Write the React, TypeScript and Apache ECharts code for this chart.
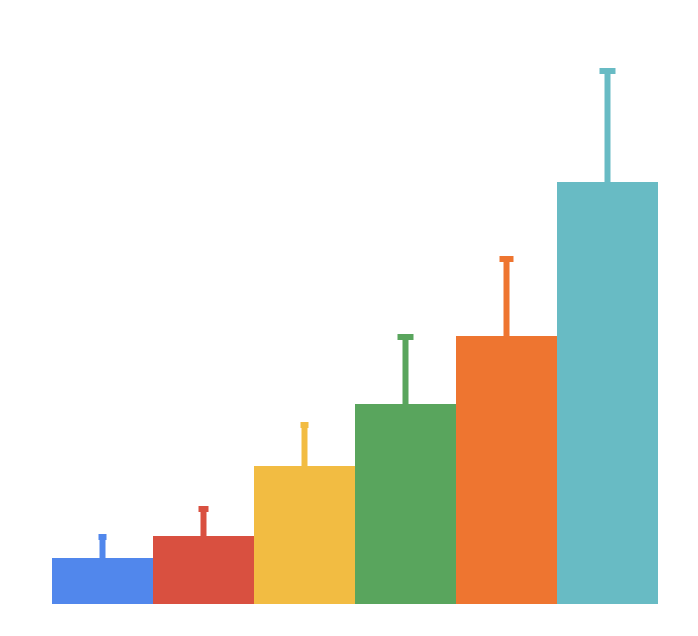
import React, { useEffect, useRef } from "react";
import * as echarts from "echarts";

const categories = ["A", "B", "C", "D", "E", "F"];
const values = [9.2, 13.6, 27.6, 40, 53.6, 84.4];
const errorUpper = [13.4, 19, 35.8, 53.4, 69, 106.6];

const COLORS = ["#5187EC", "#D95040", "#F2BC42", "#59A55D", "#EE7530", "#68BBC4"];
const CAP_WIDTHS = [8, 10, 8, 16, 14, 16];

export default function App() {
  const ref = useRef<HTMLDivElement>(null);
  useEffect(() => {
    document.body.style.margin = "0";
    const chart = echarts.init(ref.current!, null, { renderer: "svg" });
    chart.setOption({
      animation: false,
      grid: { left: 52, right: 40, top: 64, bottom: 32 },
      xAxis: { type: "category", data: categories, show: false },
      yAxis: { type: "value", min: 0, max: 108, show: false },
      series: [
        {
          type: "bar",
          barCategoryGap: "0%",
          data: values.map((v, i) => ({ value: v, itemStyle: { color: COLORS[i] } })),
        },
        {
          type: "custom",
          data: values.map((v, i) => [i, v, errorUpper[i]]),
          renderItem: (params: any, api: any) => {
            const i = api.value(0);
            const base = api.coord([i, api.value(1)]);
            const top = api.coord([i, api.value(2)]);
            const cx = base[0];
            const color = COLORS[params.dataIndex];
            const capW = CAP_WIDTHS[params.dataIndex];
            return {
              type: "group",
              children: [
                {
                  type: "rect",
                  shape: { x: cx - 3, y: top[1], width: 6, height: base[1] - top[1] },
                  style: { fill: color },
                },
                {
                  type: "rect",
                  shape: { x: cx - capW / 2, y: top[1] - 3, width: capW, height: 6 },
                  style: { fill: color },
                },
              ],
            };
          },
        },
      ],
    });
    return () => chart.dispose();
  }, []);
  return <div ref={ref} style={{ width: 698, height: 636 }} />;
}
